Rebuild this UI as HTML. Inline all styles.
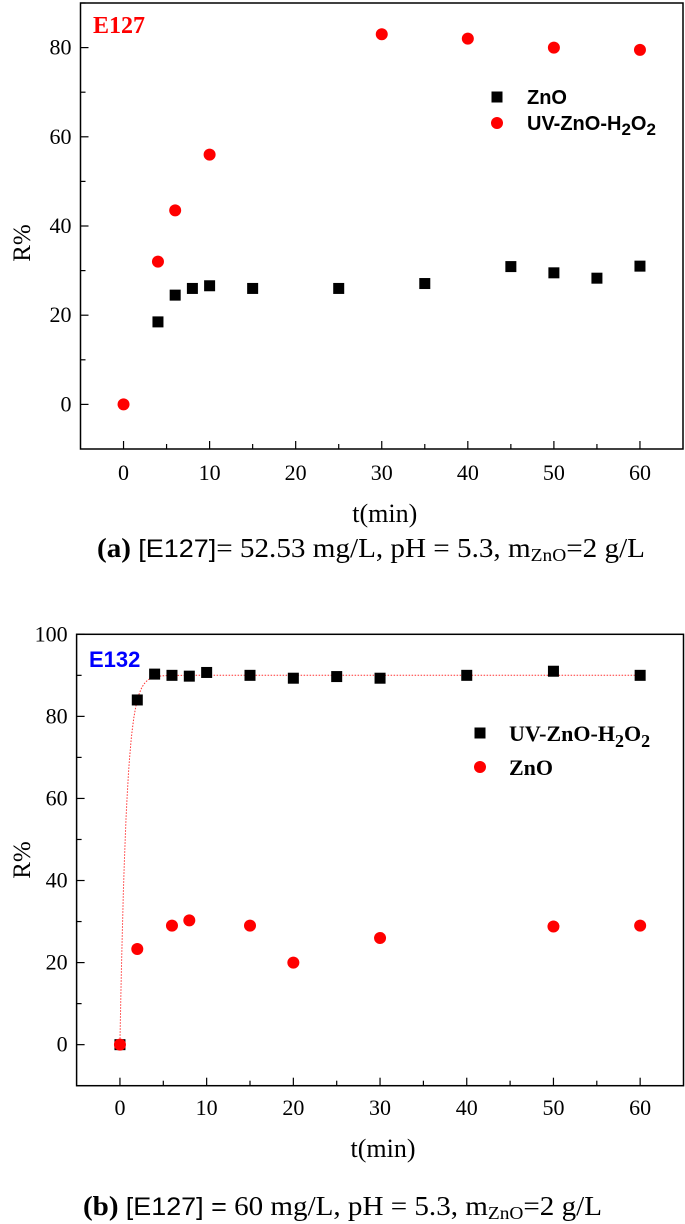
<!DOCTYPE html>
<html><head><meta charset="utf-8"><style>
body{margin:0;background:#fff;width:685px;height:1224px;overflow:hidden}
svg{display:block}
</style></head><body>
<svg id="s" width="685" height="1224" xmlns="http://www.w3.org/2000/svg"></svg>
<script>
// Chart (a) data
const aZnoT=[4,6,8,10,15,25,35,45,50,55,60];
const aZnoR=[18.5,24.5,26,26.6,26,26,27.1,30.9,29.5,28.3,31];
const aUvT=[0,4,6,10,30,40,50,60];
const aUvR=[0,32,43.5,56,83,82,80,79.5];
const xTicks=[0,10,20,30,40,50,60];
const aYTicks=[0,20,40,60,80];
// Chart (b) data
const bUvT=[0,2,4,6,8,10,15,20,25,30,40,50,60];
const bUvR=[0,84,90.3,90,89.8,90.7,90,89.3,89.7,89.3,90,91,90];
const bZnoT=[0,2,6,8,15,20,30,50,60];
const bZnoR=[0,23.3,29,30.3,29,20,26,28.8,29];
const bYTicks=[0,20,40,60,80,100];
const fitMax=90, fitK=1.35;

const NS="http://www.w3.org/2000/svg";
const svg=document.getElementById('s');
function el(tag,attrs,parent,text){const e=document.createElementNS(NS,tag);for(const k in attrs)e.setAttribute(k,attrs[k]);if(text!==undefined)e.textContent=text;(parent||svg).appendChild(e);return e;}

function chart(cfg){
  const g=el('g',{});
  
  
  const {L,R,T,B,x0,x1,y0,y1}=cfg;
  const X=v=>L+(v-x0)/(x1-x0)*(R-L);
  const Y=v=>B-(v-y0)/(y1-y0)*(B-T);
  const frame=el('rect',{x:L,y:T,width:R-L,height:B-T,fill:'none',stroke:'#000','stroke-width':1.5},g);
  
  
  for(let v=0;v<=60;v+=5){
    const major=v%10===0;
    const t=el('line',{x1:X(v),x2:X(v),y1:B,y2:B-(major?8:5),stroke:'#000','stroke-width':1.2},g);
    
    
  }
  xTicks.forEach(v=>{
    const t=el('text',{x:X(v),y:cfg.tickY,'text-anchor':'middle','font-family':'Liberation Serif, serif','font-size':22},g,String(v));
    
    
  });
  for(let v=0;v<=y1;v+=10){
    const major=v%20===0;
    const t=el('line',{x1:L,x2:L+(major?8:5),y1:Y(v),y2:Y(v),stroke:'#000','stroke-width':1.2},g);
    
    
  }
  cfg.yTicks.forEach(v=>{
    const t=el('text',{x:L-9,y:Y(v)+7,'text-anchor':'end','font-family':'Liberation Serif, serif','font-size':22},g,String(v));
    
    
  });
  const xt=el('text',{x:(L+R)/2+3,y:cfg.titleY,'text-anchor':'middle','font-family':'Liberation Serif, serif','font-size':26},g,'t(min)');
  
  
  const yt=el('text',{x:0,y:0,transform:`translate(30,${cfg.yTitleC}) rotate(-90)`,'text-anchor':'middle','font-family':'Liberation Serif, serif','font-size':25},g,'R%');
  
  
  return {g,X,Y};
}
function square(g,x,y,fill){return el('rect',{x:x-5.5,y:y-5.5,width:11,height:11,fill},g);}
function circle(g,x,y,fill){return el('circle',{cx:x,cy:y,r:6,fill},g);}

// Chart A
const A=chart({name:'chart-a',L:80.5,R:683,T:3,B:449,x0:-5,x1:65,y0:-10,y1:90,yTicks:aYTicks,tickY:480,titleY:522,yTitleC:243});
aUvT.forEach((t,i)=>{const c=circle(A.g,A.X(t),A.Y(aUvR[i]),'#f00');

});
aZnoT.forEach((t,i)=>{const s=square(A.g,A.X(t),A.Y(aZnoR[i]),'#000');

});
let t1=el('text',{x:93,y:33,fill:'#f00','font-family':'Liberation Serif, serif','font-weight':'bold','font-size':24},A.g,'E127');


let lg=el('g',{},A.g);


square(lg,497,97,'#000');circle(lg,497,123,'#f00');
el('text',{x:527,y:104,'font-family':'Liberation Sans, sans-serif','font-weight':'bold','font-size':20},lg,'ZnO');
lg.insertAdjacentHTML('beforeend','<text x="527" y="130" font-family="Liberation Sans, sans-serif" font-weight="bold" font-size="20">UV-ZnO-H<tspan dy="5" font-size="17">2</tspan><tspan dy="-5">O</tspan><tspan dy="5" font-size="17">2</tspan></text>');
svg.insertAdjacentHTML('beforeend','<text x="97" y="557" textLength="548" lengthAdjust="spacingAndGlyphs" font-family="Liberation Serif, serif" font-size="27"><tspan font-weight="bold">(a)</tspan> <tspan font-family="Liberation Sans, sans-serif" font-size="25">[E127]</tspan>= 52.53 mg/L, pH = 5.3, m<tspan font-size="18" dy="4">ZnO</tspan><tspan dy="-4">=2 g/L</tspan></text>');

// Chart B
const Bc=chart({name:'chart-b',L:76.6,R:683.5,T:634.3,B:1085.7,x0:-5,x1:65,y0:-10,y1:100,yTicks:bYTicks,tickY:1115,titleY:1157,yTitleC:860});
let pts=[];for(let t=0;t<=60;t+=0.1){pts.push(Bc.X(t).toFixed(1)+','+Bc.Y(fitMax*(1-Math.exp(-fitK*t))).toFixed(1));}
let fit=el('polyline',{points:pts.join(' '),fill:'none',stroke:'#f33','stroke-width':1,'stroke-dasharray':'1.5,1.5'},Bc.g);


bUvT.forEach((t,i)=>{const s=square(Bc.g,Bc.X(t),Bc.Y(bUvR[i]),'#000');

});
bZnoT.forEach((t,i)=>{const c=circle(Bc.g,Bc.X(t),Bc.Y(bZnoR[i]),'#f00');

});
let t2=el('text',{x:89,y:667,fill:'#00f','font-family':'Liberation Sans, sans-serif','font-weight':'bold','font-size':22},Bc.g,'E132');


let lg2=el('g',{},Bc.g);


square(lg2,480,733,'#000');circle(lg2,480,767,'#f00');
lg2.insertAdjacentHTML('beforeend','<text x="509" y="741" font-family="Liberation Serif, serif" font-weight="bold" font-size="22">UV-ZnO-H<tspan dy="6" font-size="18">2</tspan><tspan dy="-6">O</tspan><tspan dy="6" font-size="18">2</tspan></text>');
el('text',{x:509,y:775,'font-family':'Liberation Serif, serif','font-weight':'bold','font-size':22},lg2,'ZnO');
svg.insertAdjacentHTML('beforeend','<text x="83" y="1215" textLength="519" lengthAdjust="spacingAndGlyphs" font-family="Liberation Serif, serif" font-size="27"><tspan font-weight="bold">(b)</tspan> <tspan font-family="Liberation Sans, sans-serif" font-size="25">[E127] =</tspan> 60 mg/L, pH = 5.3, m<tspan font-size="18" dy="4">ZnO</tspan><tspan dy="-4">=2 g/L</tspan></text>');
</script>
</body></html>
